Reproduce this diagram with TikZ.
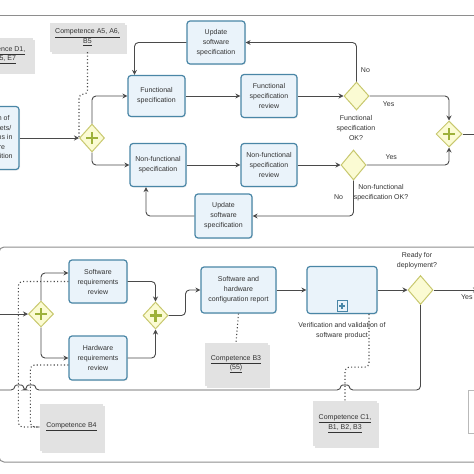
\documentclass[tikz,border=0pt]{standalone}
\usepackage{fontspec}
\setmainfont{Liberation Sans}
\usepackage{xcolor}
\usepackage{tikz}
\usetikzlibrary{positioning, arrows.meta, shapes.geometric, shadows, calc}

\definecolor{taskline}{HTML}{4A86A6}
\definecolor{taskfill}{HTML}{EAF3FA}
\definecolor{gateline}{HTML}{C8C86E}
\definecolor{gatefill}{HTML}{FBFBD3}
\definecolor{plusgreen}{HTML}{9DB13A}
\definecolor{flowgray}{HTML}{4A4A4A}
\definecolor{notefill}{HTML}{E2E2E2}
\definecolor{poolgray}{HTML}{8E8E8E}
\definecolor{txtgray}{HTML}{333333}

\tikzset{
  bpmtask/.style={rectangle, rounded corners=3pt, draw=taskline, line width=1.2pt,
    fill=taskfill, minimum width=56pt, minimum height=43pt, inner sep=1pt,
    align=center, text=txtgray, font=\fontsize{7}{10}\selectfont,
    drop shadow={shadow xshift=1pt, shadow yshift=-1pt, fill=gray!25}},
  bpmgate/.style={diamond, draw=gateline, line width=1pt, fill=gatefill,
    minimum width=25pt, minimum height=28pt, inner sep=0pt},
  plusgate/.style={bpmgate, path picture={
    \draw[plusgreen, line width=2.6pt]
      ([xshift=-6pt]path picture bounding box.center) -- ([xshift=6pt]path picture bounding box.center)
      ([yshift=-6pt]path picture bounding box.center) -- ([yshift=6pt]path picture bounding box.center);}},
  bpmnote/.style={rectangle, fill=notefill, minimum width=64pt, minimum height=30pt,
    inner sep=1pt, align=center, text=txtgray, font=\fontsize{7}{10}\selectfont,
    drop shadow={shadow xshift=2pt, shadow yshift=-2pt, fill=gray!45}},
  seqflow/.style={draw=flowgray, line width=0.9pt, rounded corners=4pt,
    -{Stealth[length=5pt, width=5pt]}},
  backline/.style={draw=flowgray, line width=0.9pt, rounded corners=4pt},
  assocline/.style={draw=flowgray, line width=1.1pt, dash pattern=on 1.1pt off 2.3pt, rounded corners=4pt},
  flowlbl/.style={text=txtgray, font=\fontsize{7}{10}\selectfont, align=center, inner sep=0pt},
  poolline/.style={draw=poolgray, line width=1pt},
}

\begin{document}
\begin{tikzpicture}[x=1pt, y=-1pt]
  \useasboundingbox (0,0) rectangle (474,474);

  % pools
  \draw[poolline] (0,15) -- (474,15);
  \draw[poolline, rounded corners=5pt] (-1,247) rectangle (482,462);

  % specification lane
  \node[bpmtask, minimum width=66pt, minimum height=63pt, font=\fontsize{7}{9.5}\selectfont] (start) at (-14,138)
       {Identification of\\software assets/\\reusable items in\\the software\\product definition};
  \node[bpmnote, minimum width=68pt, minimum height=34pt, font=\fontsize{7}{9}\selectfont] (noteD) at (-1,55)
       {\underline{Competence D1,}\\\underline{D5, E5, E7}};
  \node[bpmnote, minimum width=75pt, minimum height=29pt] (noteA) at (87.5,37.5)
       {\underline{Competence A5, A6,}\\\underline{B5}};
  \node[plusgate] (g1) at (92,138) {};

  \node[bpmtask, minimum width=57pt, minimum height=41pt] (fspec) at (156.5,96) {Functional\\specification};
  \node[bpmtask] (nfspec) at (158,165) {Non-functional\\specification};
  \node[bpmtask, minimum width=58pt] (updA) at (216,42.5) {Update\\software\\specification};
  \node[bpmtask, minimum width=57pt, minimum height=44pt] (updB) at (223.5,216) {Update\\software\\specification};
  \node[bpmtask] (fsr) at (269,96) {Functional\\specification\\review};
  \node[bpmtask] (nfsr) at (269,165) {Non-functional\\specification\\review};

  \node[bpmgate] (gf) at (356.5,96) {};
  \node[bpmgate, minimum height=30pt] (gnf) at (353.5,165) {};
  \node[plusgate, minimum width=26pt, minimum height=26pt] (g2) at (449,134) {};
  \coordinate (exitA) at (478,134);

  \node[flowlbl] (lblF) at (356,128) {Functional\\specification\\OK?};
  \node[flowlbl] (lblNF) at (381,193) {Non-functional\\specification OK?};

  \draw[seqflow] (start) -- (g1);
  \draw[seqflow] (g1.north) |- (fspec.west);
  \draw[seqflow] (g1.south) |- (nfspec.west);
  \draw[seqflow] (fspec) -- (fsr);
  \draw[seqflow] (nfspec) -- (nfsr);
  \draw[seqflow] (fsr) -- (gf);
  \draw[seqflow] (nfsr) -- (gnf);
  \draw[seqflow] (gf.north) |- node[flowlbl, pos=0.14, right=4pt] {No} (updA.east);
  \draw[seqflow] (gnf.south) |- node[flowlbl, pos=0.24, left=10pt] {No} (updB.east);
  \draw[seqflow] (gf.east) -| node[flowlbl, pos=0.12, below=5pt] {Yes} (g2.north);
  \draw[seqflow] (gnf.east) -| node[flowlbl, pos=0.15, above=5pt] {Yes} (g2.south);
  \draw[seqflow] (updA.west) -| ([xshift=-22pt]fspec.north);
  \draw[seqflow] (updB.west) -| ([xshift=-12pt]nfspec.south);
  \draw[backline] (g2.east) -- (exitA);
  \draw[assocline] (noteA.south) -- ++(0,42) -| (g1.west);

  % requirements and verification lane
  \coordinate (entryB) at (-2,314);
  \node[plusgate, minimum height=26pt] (g3) at (41,314) {};
  \node[bpmtask, minimum width=58pt] (srr) at (98,281.5) {Software\\requirements\\review};
  \node[bpmtask, minimum width=58pt, minimum height=44pt] (hrr) at (98,358) {Hardware\\requirements\\review};
  \node[plusgate, minimum height=27pt] (g4) at (155.5,315.5) {};
  \node[bpmtask, minimum width=75pt, minimum height=46pt] (shcr) at (238.5,290)
       {Software and\\hardware\\configuration report};
  \node[bpmtask, minimum width=70pt, minimum height=47pt] (vv) at (342,290) {};
  \node[rectangle, draw=taskline, line width=1pt, fill=taskfill, minimum width=10pt, minimum height=11pt,
        inner sep=0pt, anchor=south, yshift=2pt,
        path picture={\draw[taskline, line width=1.6pt]
          ([xshift=-3pt]path picture bounding box.center) -- ([xshift=3pt]path picture bounding box.center)
          ([yshift=-3pt]path picture bounding box.center) -- ([yshift=3pt]path picture bounding box.center);}]
        (vvmark) at (vv.south) {};
  \node[bpmgate, minimum height=29pt] (grd) at (420.5,290) {};
  \coordinate (exitB) at (478,290);

  \node[flowlbl] (lblVV) at (342,331) {Verification and validation of\\software product};
  \node[flowlbl] (lblRD) at (417,261) {Ready for\\deployment?};

  \node[bpmnote, minimum width=63pt, minimum height=43pt, font=\fontsize{7}{9}\selectfont] (noteB3) at (236,364.5)
       {\underline{Competence B3}\\\underline{(55)}};
  \node[bpmnote, minimum width=64pt, minimum height=45pt] (noteC) at (345,423.5)
       {\underline{Competence C1,}\\\underline{B1, B2, B3}};
  \node[bpmnote, minimum width=63pt, minimum height=47pt] (noteB4) at (71.5,427) {\underline{Competence B4}};
  \node[rectangle, draw=gray!55, fill=white, minimum width=30pt, minimum height=43pt] (noteR) at (483,411.5) {};

  \draw[seqflow] (entryB) -- (g3);
  \draw[seqflow] (g3.north) |- ([yshift=8.5pt]srr.west);
  \draw[seqflow] (g3.south) |- (hrr.west);
  \draw[seqflow] (srr.east) -| (g4.north);
  \draw[seqflow] (hrr.east) -| (g4.south);
  \draw[seqflow] (g4.east) -- ++(17,0) |- (shcr.west);
  \draw[seqflow] (shcr) -- (vv);
  \draw[seqflow] (vv) -- (grd);
  \draw[seqflow] (grd.east) -- node[flowlbl, pos=0.75, below=4pt] {Yes} (exitB);
  \draw[backline] (grd.south) |- (349,390) .. controls (349,384.5) and (341,384.5) .. (341,390)
       -- (35,390) .. controls (35,384.5) and (27,384.5) .. (27,390)
       -- (23,390) .. controls (23,384.5) and (15,384.5) .. (15,390) -- (-2,390);

  \draw[assocline] (shcr.south) -- (noteB3.north);
  \draw[assocline] ([xshift=27pt]vv.south) -- ++(0,53) -| (noteC.north);
  \draw[assocline] (srr.west) -- ++(-50,0) |- (noteB4.west);
  \draw[assocline] ([yshift=-7pt]hrr.west) -- ++(-38,0) |- (noteB4.west);
\end{tikzpicture}
\end{document}
